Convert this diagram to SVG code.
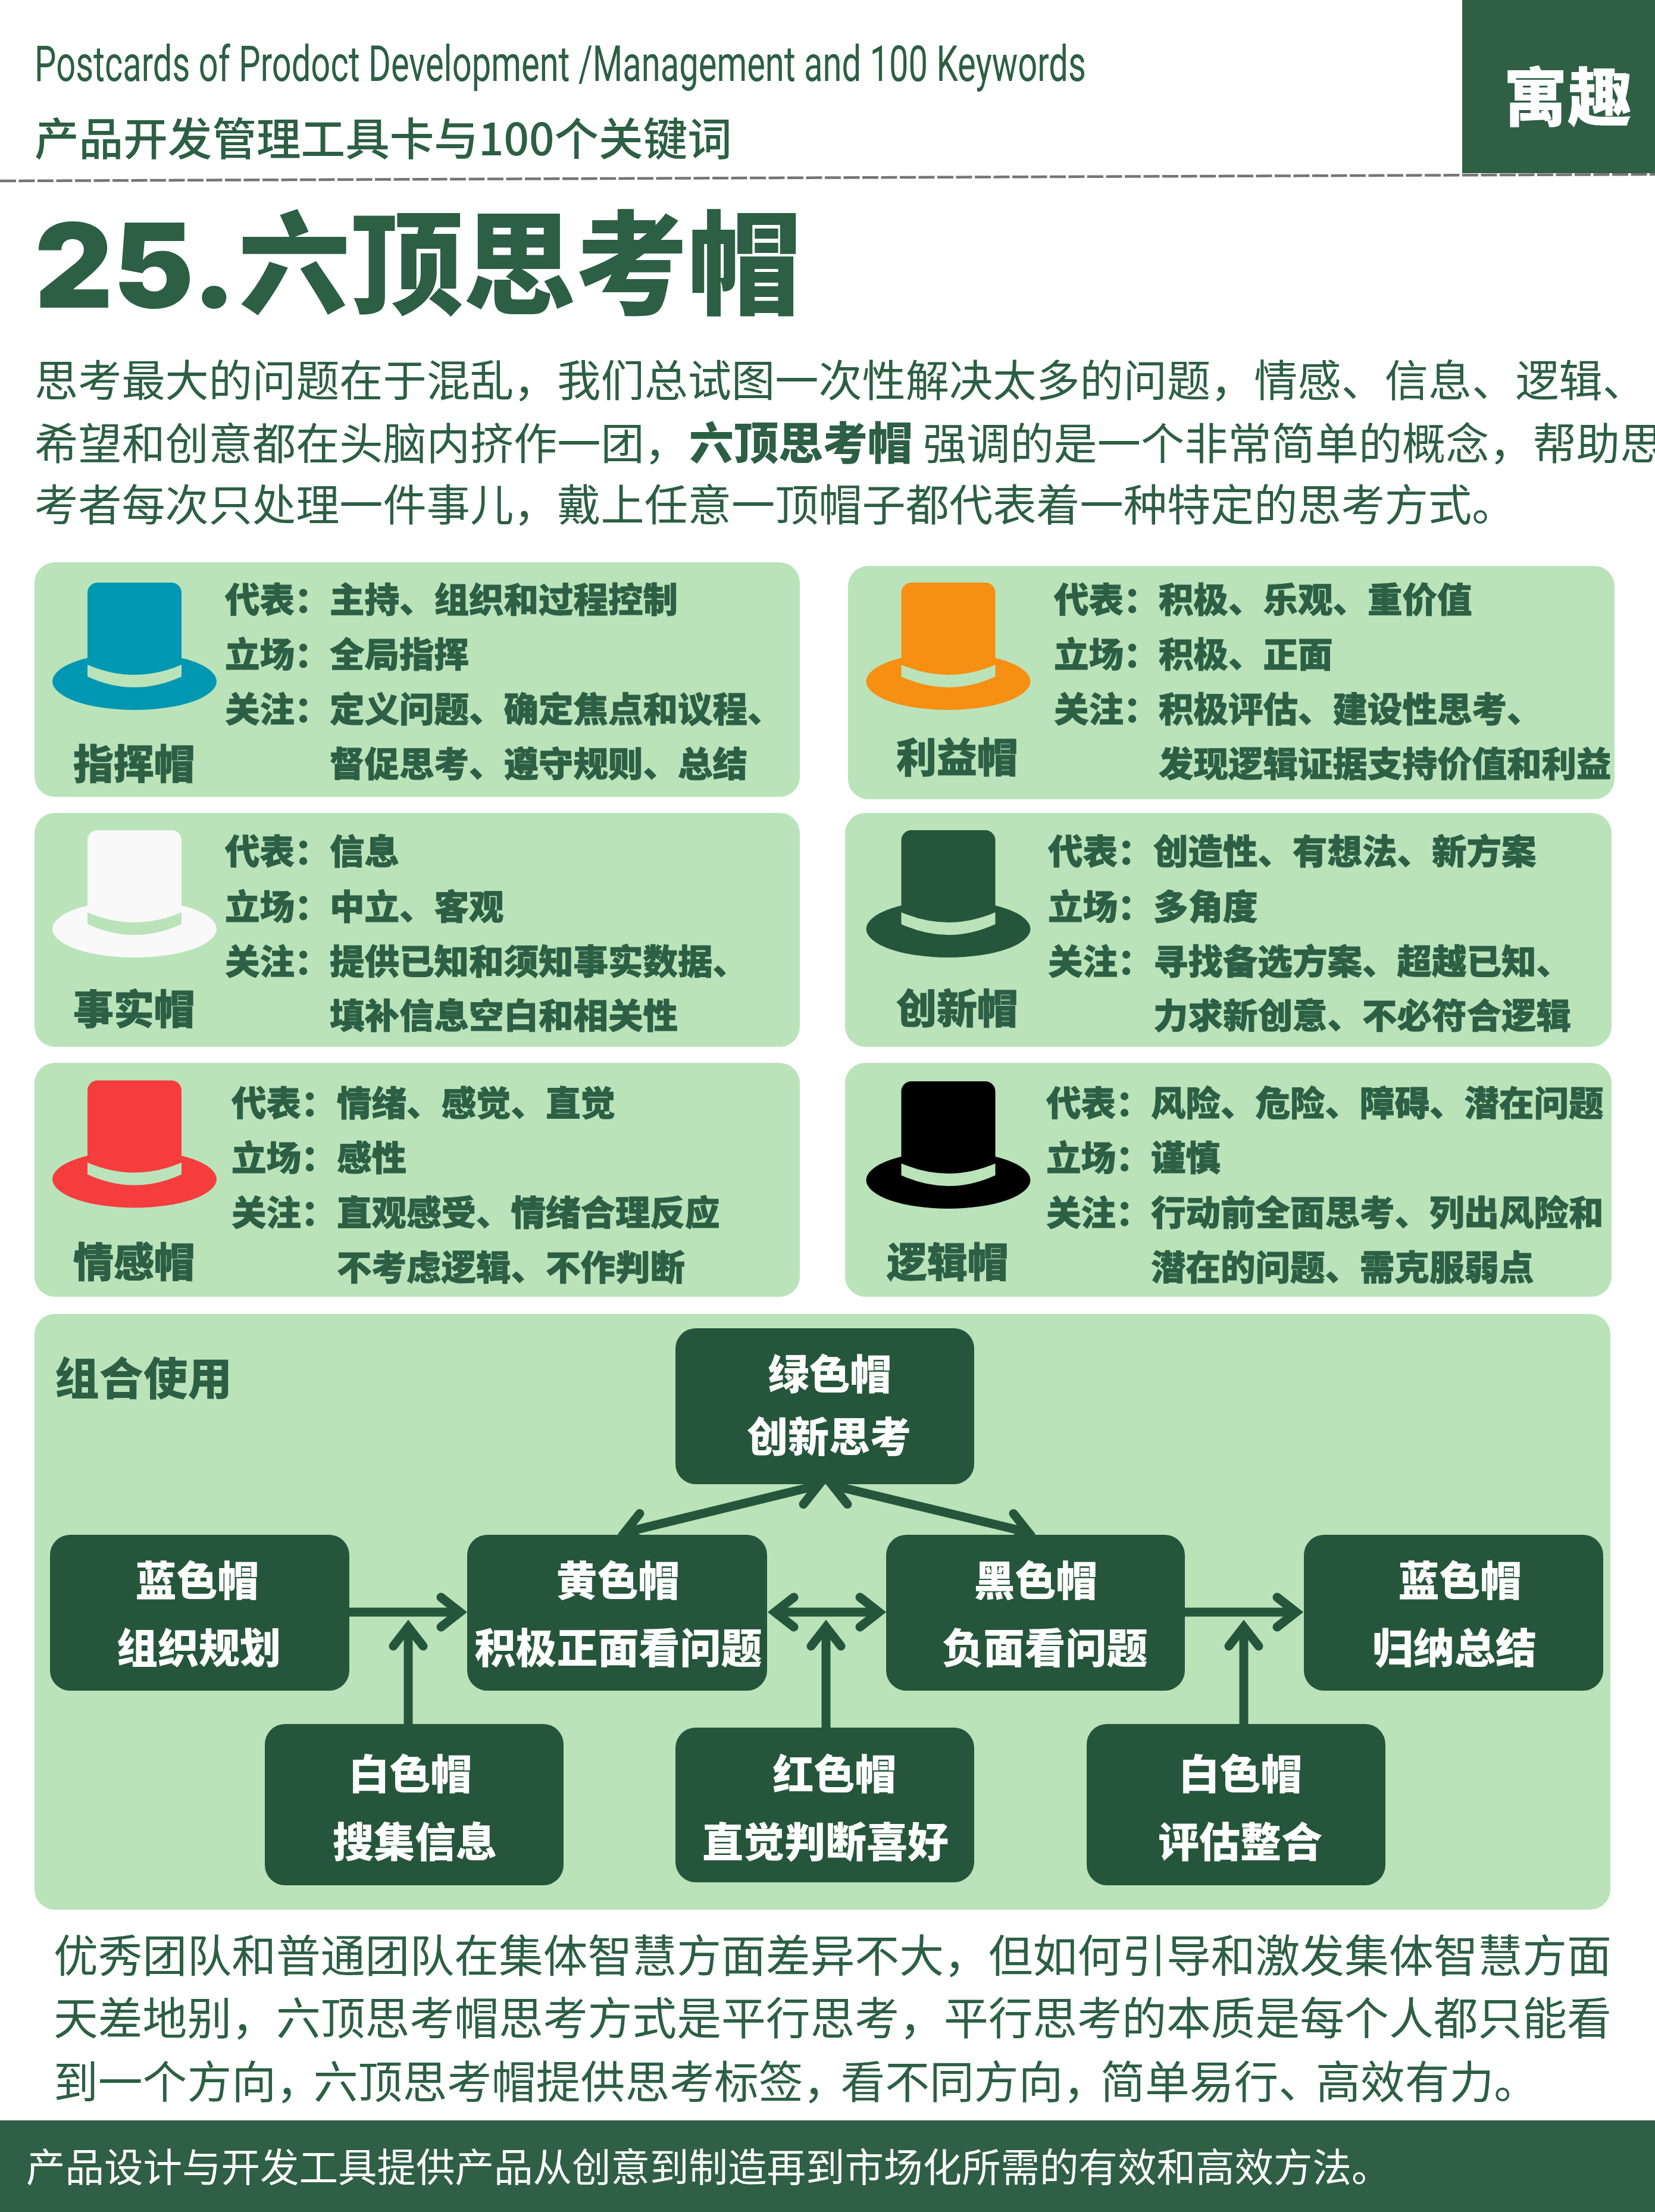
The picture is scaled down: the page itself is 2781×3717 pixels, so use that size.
<svg xmlns="http://www.w3.org/2000/svg" width="2781" height="3717" viewBox="0 0 2781 3717">
<style>
text{font-family:"Noto Sans CJK SC","Noto Sans",sans-serif;fill:#2c5f44}
.body{font-size:73.2px;font-weight:400}
.para{font-size:74.8px;font-weight:400}
.b{font-size:58.5px;font-weight:900;stroke:#2c5f44;stroke-width:.8px;transform:translateX(-1px)}
.name{font-size:68px;font-weight:900;text-anchor:middle;stroke:#2c5f44;stroke-width:.8px}
.bt{font-size:69px;font-weight:900;text-anchor:middle;fill:#fff}
.panel{fill:#bae3ba}
.box{fill:#25563b}
.ln{stroke:#25563b;stroke-width:15;fill:none}
</style>
<defs>
<g id="hat">
<ellipse cx="226" cy="1145" rx="138" ry="48"/>
<path d="M147,1125V996a17,17 0 0 1 17,-17H288a17,17 0 0 1 17,17V1125Z"/>
<path class="panel" d="M147,1117Q226,1151 305,1117V1137Q226,1173 147,1137Z"/>
</g>
<marker id="ah" viewBox="-50 -50 100 100" markerWidth="100" markerHeight="100" refX="0" refY="0" markerUnits="userSpaceOnUse" orient="auto-start-reverse">
<path d="M-28,-25L4,0L-28,25" fill="none" stroke="#25563b" stroke-width="15" stroke-linecap="round" stroke-linejoin="miter"/>
</marker>
</defs>
<rect width="2781" height="3717" fill="#fff"/>
<g id="header">
<rect x="2457" y="0" width="324" height="291" fill="#2f5f45"/>
<text x="2526" y="203" font-size="107" font-weight="900" style="fill:#fff" textLength="216" lengthAdjust="spacingAndGlyphs">寓趣</text>
<text transform="translate(58,136) scale(.72,1)" x="0" y="0" font-size="84" style="font-family:Roboto,sans-serif;font-weight:400" textLength="2454" lengthAdjust="spacingAndGlyphs">Postcards of Prodoct Development /Management and 100 Keywords</text>
<text x="58" y="261" font-size="74.6" font-weight="500">产品开发管理工具卡与100个关键词</text>
<line x1="0" y1="304" x2="2781" y2="293" stroke="#757575" stroke-width="4.5" stroke-dasharray="27 4.5"/>
<text x="58" y="517" font-size="196" font-weight="900" style="font-family:Inter,sans-serif" textLength="340" lengthAdjust="spacingAndGlyphs">25.</text>
<text x="400" y="513" font-size="189" font-weight="900">六顶思考帽</text>
</g>
<g id="intro">
<text class="body" x="58" y="666">思考最大的问题在于混乱，我们总试图一次性解决太多的问题，情感、信息、逻辑、</text>
<text class="body" x="58" y="772">希望和创意都在头脑内挤作一团，</text>
<text x="1158" y="772" font-size="75" font-weight="900">六顶思考帽</text>
<text class="body" x="1551" y="772">强调的是一个非常简单的概念，帮助思</text>
<text class="body" x="58" y="875">考者每次只处理一件事儿，戴上任意一顶帽子都代表着一种特定的思考方式。</text>
</g>
<g id="hat-blue">
<rect class="panel" x="58" y="945" width="1286" height="394" rx="34"/>
<use href="#hat" fill="#0097b2"/>
<text class="b" x="379" y="1029">代表：</text><text class="b" x="555" y="1029">主持、组织和过程控制</text>
<text class="b" x="379" y="1121">立场：</text><text class="b" x="555" y="1121">全局指挥</text>
<text class="b" x="379" y="1213">关注：</text><text class="b" x="555" y="1213">定义问题、确定焦点和议程、</text>
<text class="b" x="555" y="1305">督促思考、遵守规则、总结</text>
<text class="name" x="225" y="1309">指挥帽</text>
</g>
<g id="hat-white">
<rect class="panel" x="58" y="1366" width="1286" height="393" rx="34"/>
<use href="#hat" y="416" fill="#f9f9f9"/>
<text class="b" x="379" y="1452">代表：</text><text class="b" x="555" y="1452">信息</text>
<text class="b" x="379" y="1545">立场：</text><text class="b" x="555" y="1545">中立、客观</text>
<text class="b" x="379" y="1637">关注：</text><text class="b" x="555" y="1637">提供已知和须知事实数据、</text>
<text class="b" x="555" y="1728">填补信息空白和相关性</text>
<text class="name" x="225" y="1721">事实帽</text>
</g>
<g id="hat-red">
<rect class="panel" x="58" y="1786" width="1286" height="393" rx="34"/>
<use href="#hat" y="836.5" fill="#f53d3d"/>
<text class="b" x="390" y="1875">代表：</text><text class="b" x="567" y="1875">情绪、感觉、直觉</text>
<text class="b" x="390" y="1967">立场：</text><text class="b" x="567" y="1967">感性</text>
<text class="b" x="390" y="2059">关注：</text><text class="b" x="567" y="2059">直观感受、情绪合理反应</text>
<text class="b" x="567" y="2151">不考虑逻辑、不作判断</text>
<text class="name" x="225" y="2146">情感帽</text>
</g>
<g id="hat-orange">
<rect class="panel" x="1425" y="951" width="1288" height="392" rx="34"/>
<use href="#hat" x="1367.5" fill="#f78f12"/>
<text class="b" x="1772" y="1029">代表：</text><text class="b" x="1948" y="1029">积极、乐观、重价值</text>
<text class="b" x="1772" y="1121">立场：</text><text class="b" x="1948" y="1121">积极、正面</text>
<text class="b" x="1772" y="1213">关注：</text><text class="b" x="1948" y="1213">积极评估、建设性思考、</text>
<text class="b" x="1948" y="1305">发现逻辑证据支持价值和利益</text>
<text class="name" x="1608" y="1298">利益帽</text>
</g>
<g id="hat-green">
<rect class="panel" x="1420" y="1366" width="1288" height="393" rx="34"/>
<use href="#hat" x="1367.5" y="416" fill="#25563b"/>
<text class="b" x="1762" y="1452">代表：</text><text class="b" x="1939" y="1452">创造性、有想法、新方案</text>
<text class="b" x="1762" y="1545">立场：</text><text class="b" x="1939" y="1545">多角度</text>
<text class="b" x="1762" y="1637">关注：</text><text class="b" x="1939" y="1637">寻找备选方案、超越已知、</text>
<text class="b" x="1939" y="1728">力求新创意、不必符合逻辑</text>
<text class="name" x="1608" y="1720">创新帽</text>
</g>
<g id="hat-black">
<rect class="panel" x="1420" y="1786" width="1288" height="393" rx="34"/>
<use href="#hat" x="1367.5" y="838" fill="#000"/>
<text class="b" x="1759" y="1875">代表：</text><text class="b" x="1935" y="1875">风险、危险、障碍、潜在问题</text>
<text class="b" x="1759" y="1967">立场：</text><text class="b" x="1935" y="1967">谨慎</text>
<text class="b" x="1759" y="2059">关注：</text><text class="b" x="1935" y="2059">行动前全面思考、列出风险和</text>
<text class="b" x="1935" y="2151">潜在的问题、需克服弱点</text>
<text class="name" x="1592" y="2146">逻辑帽</text>
</g>
<g id="combo">
<rect class="panel" x="58" y="2208" width="2648" height="1001" rx="34"/>
<text x="92" y="2344" font-size="74.5" font-weight="900">组合使用</text>
</g>
<g id="connectors">
<path class="ln" d="M587,2709H769" marker-end="url(#ah)"/>
<path class="ln" d="M1306,2709H1473" marker-start="url(#ah)" marker-end="url(#ah)"/>
<path class="ln" d="M1991,2709H2174" marker-end="url(#ah)"/>
<path class="ln" d="M686,2897V2738" marker-end="url(#ah)"/>
<path class="ln" d="M1388,2903V2738" marker-end="url(#ah)"/>
<path class="ln" d="M2090,2897V2738" marker-end="url(#ah)"/>
<path class="ln" d="M1371.4,2496.8L1053.6,2574.2" marker-start="url(#ah)" marker-end="url(#ah)"/>
<path class="ln" d="M1402.6,2496.7L1724.4,2574.3" marker-start="url(#ah)" marker-end="url(#ah)"/>
</g>
<g id="n-green"><rect class="box" x="1135" y="2232" width="502" height="262" rx="34"/><text class="bt" x="1394" y="2335">绿色帽</text><text class="bt" x="1393" y="2440">创新思考</text></g>
<g id="n-blue1"><rect class="box" x="84" y="2579" width="503" height="262" rx="34"/><text class="bt" x="331" y="2682">蓝色帽</text><text class="bt" x="334" y="2795">组织规划</text></g>
<g id="n-yellow"><rect class="box" x="785" y="2579" width="504" height="262" rx="34"/><text class="bt" x="1038" y="2682">黄色帽</text><text class="bt" x="1039" y="2795">积极正面看问题</text></g>
<g id="n-black"><rect class="box" x="1489" y="2579" width="502" height="262" rx="34"/><text class="bt" x="1740" y="2682">黑色帽</text><text class="bt" x="1756" y="2795">负面看问题</text></g>
<g id="n-blue2"><rect class="box" x="2191" y="2579" width="503" height="262" rx="34"/><text class="bt" x="2453" y="2682">蓝色帽</text><text class="bt" x="2444" y="2795">归纳总结</text></g>
<g id="n-white1"><rect class="box" x="445" y="2897" width="502" height="271" rx="34"/><text class="bt" x="689" y="3007">白色帽</text><text class="bt" x="697" y="3121">搜集信息</text></g>
<g id="n-red"><rect class="box" x="1135" y="2903" width="502" height="260" rx="34"/><text class="bt" x="1402" y="3007">红色帽</text><text class="bt" x="1387" y="3121">直觉判断喜好</text></g>
<g id="n-white2"><rect class="box" x="1826" y="2897" width="502" height="271" rx="34"/><text class="bt" x="2084" y="3007">白色帽</text><text class="bt" x="2084" y="3121">评估整合</text></g>
<g id="outro">
<text class="para" x="90" y="3314">优秀团队和普通团队在集体智慧方面差异不大，但如何引导和激发集体智慧方面</text>
<text class="para" x="90" y="3419">天差地别，六顶思考帽思考方式是平行思考，平行思考的本质是每个人都只能看</text>
<text class="para" x="90" y="3526">到一个方向，<tspan dx="-12">六顶思考帽提供思考标签，</tspan><tspan dx="-12">看不同方向，</tspan><tspan dx="-12">简单易行、</tspan><tspan dx="-12">高效有力。</tspan></text>
</g>
<g id="footer">
<rect x="0" y="3563" width="2781" height="154" fill="#2f5f45"/>
<text x="44" y="3666" font-size="65.5" font-weight="400" style="fill:#fff">产品设计与开发工具提供产品从创意到制造再到市场化所需的有效和高效方法。</text>
</g>
</svg>
